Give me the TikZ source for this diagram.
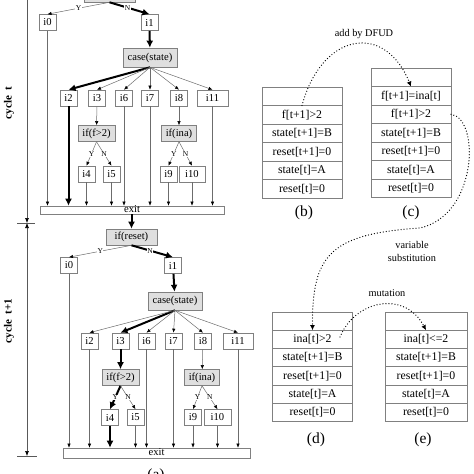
\documentclass[tikz,border=0pt]{standalone}
\usepackage{fontspec}
\setmainfont{Liberation Serif}
\usetikzlibrary{arrows.meta,positioning}

\tikzset{
  blk/.style={draw=gray, fill=white, line width=0.6pt, inner xsep=4.5pt, inner ysep=0pt,
              minimum height=16pt, font=\fontsize{10.6}{12}\selectfont},
  cond/.style={blk, fill=gray!25},
  flow/.style={draw=gray!85!black, line width=0.5pt, -{Latex[length=4pt,width=3.4pt,color=black]}},
  hot/.style={draw=black, line width=2pt, -{Latex[length=7pt,width=7pt]}},
  yn/.style={font=\fontsize{7.5}{8}\selectfont, fill=white, inner sep=0.4pt},
  row/.style={draw=gray, line width=0.6pt, fill=white, minimum width=80pt, minimum height=18.5pt,
              inner sep=0pt, outer sep=0pt, font=\fontsize{11.8}{13}\selectfont},
  trace/.style={line width=1.3pt, dash pattern=on 0pt off 3pt, line cap=round,
                -{Latex[length=5pt,width=5pt]}},
  note/.style={font=\fontsize{10.3}{12.5}\selectfont, align=center},
  tag/.style={font=\fontsize{15.5}{17}\selectfont, inner sep=0pt},
  cyc/.style={font=\bfseries\fontsize{11}{12}\selectfont, rotate=90},
  axis/.style={draw=gray!70!black, line width=0.6pt},
}

\begin{document}
\begin{tikzpicture}[x=1pt, y=-1pt]
  \useasboundingbox (0,0) rectangle (474,474);
  \clip (0,0) rectangle (474,474);

  % cycle t
  \node[cond, minimum width=51] (treset) at (109.5,-6) {if(reset)};
  \node[blk] (ti0) at (47.5,22.5) {i0};
  \node[blk] (ti1) at (149.5,22.5) {i1};
  \node[cond, minimum height=19] (tcase) at (150,57.5) {case(state)};
  \node[blk] (ti2) at (68.5,98) {i2};
  \node[blk] (ti3) at (97,98) {i3};
  \node[blk] (ti6) at (124,98) {i6};
  \node[blk] (ti7) at (150,98) {i7};
  \node[blk] (ti8) at (179,98) {i8};
  \node[blk, minimum width=31] (ti11) at (212.5,98) {i11};
  \node[cond] (tiff) at (96.5,133.5) {if(f>2)};
  \node[cond] (tina) at (179,133.5) {if(ina)};
  \node[blk] (ti4) at (86.5,174) {i4};
  \node[blk] (ti5) at (111.5,174) {i5};
  \node[blk] (ti9) at (168.5,174) {i9};
  \node[blk, minimum width=26] (ti10) at (192,174) {i10};
  \node[blk, minimum width=184, minimum height=8, text height=5pt, text depth=0pt] (texit) at (132,210) {exit};

  \draw[flow] (treset.south) -- node[yn] {Y} (ti0.north);
  \draw[hot] (treset.south) -- node[yn, pos=0.45] {N} (ti1.north);
  \draw[hot] (ti1) -- (tcase);
  \draw[hot] (tcase.south) -- (ti2.north);
  \foreach \n in {ti3,ti6,ti7,ti8,ti11}
    \draw[flow] (tcase.south) -- (\n.north);
  \draw[flow] (ti3) -- (tiff);
  \draw[flow] (ti8) -- (tina);
  \draw[flow] (tiff.south) -- node[yn] {Y} (ti4.north);
  \draw[flow] (tiff.south) -- node[yn] {N} (ti5.north);
  \draw[flow] (tina.south) -- node[yn] {Y} (ti9.north);
  \draw[flow] (tina.south) -- node[yn] {N} (ti10.north);
  \foreach \n in {ti0,ti4,ti5,ti6,ti7,ti9,ti10,ti11}
    \draw[flow] (\n.south) -- (\n.south |- texit.north);
  \draw[hot] (ti2.south) -- (ti2.south |- texit.north);

  % cycle t+1
  \node[cond, minimum width=51] (nreset) at (131.5,237) {if(reset)};
  \node[blk] (ni0) at (69,265.5) {i0};
  \node[blk] (ni1) at (173,265.5) {i1};
  \node[cond, minimum height=18] (ncase) at (175,301) {case(state)};
  \node[blk] (ni2) at (89.5,341) {i2};
  \node[blk] (ni3) at (120.5,341) {i3};
  \node[blk] (ni6) at (146.5,341) {i6};
  \node[blk] (ni7) at (173.5,341) {i7};
  \node[blk] (ni8) at (203,341) {i8};
  \node[blk, minimum width=30] (ni11) at (238,341) {i11};
  \node[cond] (niff) at (120.5,377.5) {if(f>2)};
  \node[cond] (nina) at (202,377.5) {if(ina)};
  \node[blk] (ni4) at (110,417.5) {i4};
  \node[blk] (ni5) at (135.5,417.5) {i5};
  \node[blk] (ni9) at (193,417.5) {i9};
  \node[blk, minimum width=27] (ni10) at (217.5,417.5) {i10};
  \node[blk, minimum width=187, minimum height=10, text height=5pt, text depth=0pt] (nexit) at (156.5,453) {exit};

  \draw[hot] (nreset.north |- texit.south) -- (nreset.north);
  \draw[flow] (nreset.south) -- node[yn] {Y} (ni0.north);
  \draw[hot] (nreset.south) -- node[yn, pos=0.45] {N} (ni1.north);
  \draw[hot] (ni1) -- (ncase);
  \draw[hot] (ncase.south) -- (ni3.north);
  \foreach \n in {ni2,ni6,ni7,ni8,ni11}
    \draw[flow] (ncase.south) -- (\n.north);
  \draw[hot] (ni3) -- (niff);
  \draw[flow] (ni8) -- (nina);
  \draw[hot] (niff.south) -- node[yn] {Y} (ni4.north);
  \draw[flow] (niff.south) -- node[yn] {N} (ni5.north);
  \draw[flow] (nina.south) -- node[yn] {Y} (ni9.north);
  \draw[flow] (nina.south) -- node[yn] {N} (ni10.north);
  \foreach \n in {ni0,ni2,ni5,ni6,ni7,ni9,ni10,ni11}
    \draw[flow] (\n.south) -- (\n.south |- nexit.north);
  \draw[hot] (ni4.south) -- (ni4.south |- nexit.north);

  % time axis
  \coordinate (ctop) at (27,-5);
  \coordinate (cmid) at (27,223);
  \coordinate (cend) at (27,456);
  \draw[axis, -{Latex[length=5pt,width=4pt,color=black]}] (ctop) -- (cmid);
  \draw[axis, {Latex[length=5pt,width=4pt,color=black]}-{Latex[length=5pt,width=4pt,color=black]}] (cmid) -- (cend);
  \draw[axis] ([xshift=-10pt]cmid) -- ([xshift=8pt]cmid);
  \draw[axis, line width=1pt] ([xshift=-10pt]cend) -- ([xshift=10pt]cend);
  \node[cyc] (lt) at (9,103) {cycle~~t};
  \node[cyc] (ltt) at (9,321) {cycle~~t+1};
  \node[tag, anchor=north] (la) at (156,469) {(a)};

  % constraint stacks
  \node[row] (b0) at (302,96.25) {};
  \foreach \txt [count=\k, remember=\k as \j (initially 0)] in
      {f[t+1]>2, state[t+1]=B, reset[t+1]=0, state[t]=A, reset[t]=0}
    \node[row, below=0pt of b\j] (b\k) {\txt};
  \node[row] (c0) at (411,77.25) {};
  \foreach \txt [count=\k, remember=\k as \j (initially 0)] in
      {f[t+1]=ina[t], f[t+1]>2, state[t+1]=B, reset[t+1]=0, state[t]=A, reset[t]=0}
    \node[row, below=0pt of c\j] (c\k) {\txt};
  \node[row, minimum height=18.3pt] (d0) at (312.5,321) {};
  \foreach \txt [count=\k, remember=\k as \j (initially 0)] in
      {ina[t]>2, state[t+1]=B, reset[t+1]=0, state[t]=A, reset[t]=0}
    \node[row, minimum height=18.3pt, below=0pt of d\j] (d\k) {\txt};
  \node[row, minimum height=18.3pt, minimum width=82pt] (e0) at (426,321) {};
  \foreach \txt [count=\k, remember=\k as \j (initially 0)] in
      {ina[t]<=2, state[t+1]=B, reset[t+1]=0, state[t]=A, reset[t]=0}
    \node[row, minimum height=18.3pt, minimum width=82pt, below=0pt of e\j] (e\k) {\txt};

  \node[tag] (lb) at (304,213) {(b)};
  \node[tag] (lc) at (411,213) {(c)};
  \node[tag] (ld) at (316,440) {(d)};
  \node[tag] (le) at (423,440) {(e)};

  \node[note] (dfud) at (364,34) {add by DFUD};
  \node[note] (subst) at (412,251.5) {variable\\substitution};
  \node[note] (mut) at (387,293) {mutation};

  \coordinate (mstart) at (340,337);
  \draw[trace] (b1.north) .. controls (322,32) and (385,22) .. (c0.south);
  \draw[trace] (c2.east) .. controls (480,118) and (478,215) .. (420,228)
                         .. controls (330,234) and (312,255) .. (d0.south);
  \draw[trace] (mstart) .. controls (355,300) and (405,290) .. (e0.south);
\end{tikzpicture}
\end{document}
